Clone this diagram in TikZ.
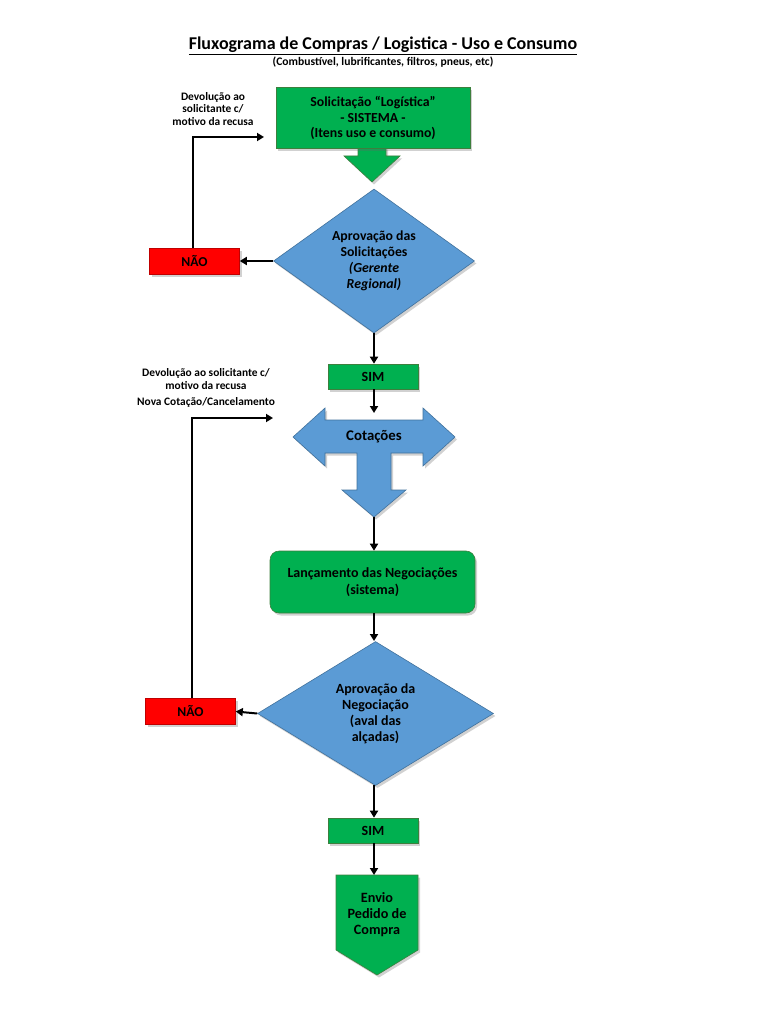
\documentclass[tikz,border=0pt]{standalone}
\usepackage{fontspec}
\setmainfont{Carlito}
\usetikzlibrary{shapes.geometric,shadows,arrows.meta}
\definecolor{gfill}{HTML}{00B050}
\definecolor{gline}{HTML}{3D7F3D}
\definecolor{bfill}{HTML}{5B9BD5}
\definecolor{bline}{HTML}{41719C}
\definecolor{rfill}{HTML}{FF0000}
\definecolor{rline}{HTML}{C00000}
\begin{document}
\begin{tikzpicture}[x=1pt,y=-1pt,
  sh/.style={drop shadow={opacity=0.3,shadow xshift=2pt,shadow yshift=-2.5pt,fill=black!60}},
  greenbox/.style={draw=gline,fill=gfill,line width=0.6pt,sh,inner sep=0pt,align=center,font=\bfseries\fontsize{14}{16}\selectfont},
  redbox/.style={draw=rline,fill=rfill,line width=0.6pt,sh,inner sep=0pt,minimum width=90pt,minimum height=26pt,font=\bfseries\fontsize{13.6}{15}\selectfont},
  decision/.style={diamond,draw=bline,fill=bfill,line width=0.6pt,sh,inner sep=0pt,align=center,font=\bfseries\fontsize{13.8}{15.8}\selectfont},
  lbl/.style={align=center,font=\bfseries\fontsize{11.4}{12.5}\selectfont},
  conn/.style={line width=2pt,-{Triangle[length=7pt,width=8pt]}},
  line/.style={line width=2pt}
]
\useasboundingbox (0,0) rectangle (768,1024);

% title
\node[font=\bfseries\fontsize{18}{20}\selectfont] (title) at (383,46) {\underline{Fluxograma de Compras / Logistica - Uso e Consumo}};
\node[font=\bfseries\fontsize{11.6}{13}\selectfont] (subtitle) at (383,62) {(Combustível, lubrificantes, filtros, pneus, etc)};

% top request box with block arrow
\path[draw=gline,fill=gfill,line width=0.6pt,sh] (358,147) -- (386,147) -- (386,156) -- (400,156) -- (372,182) -- (344,156) -- (358,156) -- cycle;
\node[greenbox,minimum width=194pt,minimum height=61pt,font=\bfseries\fontsize{13.8}{15.5}\selectfont] (sol) at (373,118) {Solicitação “Logística”\\- SISTEMA -\\(Itens uso e consumo)};

% decision 1
\node[decision,minimum width=201pt,minimum height=144pt] (d1) at (374,261) {Aprovação das\\Solicitações\\\textit{(Gerente}\\\textit{Regional)}};
\node[redbox] (nao1) at (194.5,261) {NÃO};
\node[greenbox,minimum width=90pt,minimum height=25pt] (sim1) at (373,376.5) {SIM};

% cotacoes T arrow
\path[draw=bline,fill=bfill,line width=0.6pt,sh]
  (293,437) -- (325,408) -- (325,420) -- (423,420) -- (423,408) -- (455,437) -- (423,466) -- (423,453)
  -- (391,453) -- (391,490) -- (406,490) -- (374,517) -- (342,490) -- (357,490) -- (357,453)
  -- (325,453) -- (325,466) -- cycle;
\node[font=\bfseries\fontsize{14.8}{16}\selectfont] (cot) at (374,437) {Cotações};
\coordinate (cotbot) at (374,517);

% lancamento
\node[greenbox,rounded corners=9pt,minimum width=205pt,minimum height=62pt,font=\bfseries\fontsize{14}{16.5}\selectfont] (lanc) at (372.5,582) {Lançamento das Negociações\\(sistema)};

% decision 2
\node[decision,minimum width=236pt,minimum height=144pt,font=\bfseries\fontsize{14}{16}\selectfont] (d2) at (375.5,713.5) {Aprovação da\\Negociação\\(aval das\\alçadas)};
\node[redbox] (nao2) at (190.5,711.5) {NÃO};
\node[greenbox,minimum width=90pt,minimum height=25pt] (sim2) at (373,830.5) {SIM};

% envio
\path[draw=gline,fill=gfill,line width=0.6pt,sh] (336,875) -- (418,875) -- (418,950) -- (377,975) -- (336,950) -- cycle;
\node[align=center,font=\bfseries\fontsize{14.2}{16}\selectfont] (envio) at (377,915) {Envio\\Pedido de\\Compra};
\coordinate (enviotop) at (374,875);

% labels
\node[lbl] (l1) at (213,109) {Devolução ao\\solicitante c/\\motivo da recusa};
\node[lbl] (l2) at (206,379) {Devolução ao solicitante c/\\motivo da recusa};
\node[lbl] (l3) at (206,402) {Nova Cotação/Cancelamento};

% connectors
\coordinate (r1) at (264,137);
\coordinate (r2) at (273,418);
\draw[conn] (d1.west) -- (nao1.east);
\draw[conn] (nao1.north -| 193,0) -- (193,137) -- (r1);
\draw[conn] (d1.south -| 374,0) -- (sim1.north -| 374,0);
\draw[conn] (sim1.south -| 374,0) -- (374,413);
\draw[conn] (cotbot) -- (lanc.north -| 374,0);
\draw[conn] (lanc.south -| 374,0) -- (374,641);
\draw[conn] (d2.west) -- (nao2.east);
\draw[conn] (nao2.north -| 192,0) -- (192,418) -- (r2);
\draw[conn] (374,785) -- (sim2.north -| 374,0);
\draw[conn] (sim2.south -| 374,0) -- (enviotop);
\end{tikzpicture}
\end{document}
